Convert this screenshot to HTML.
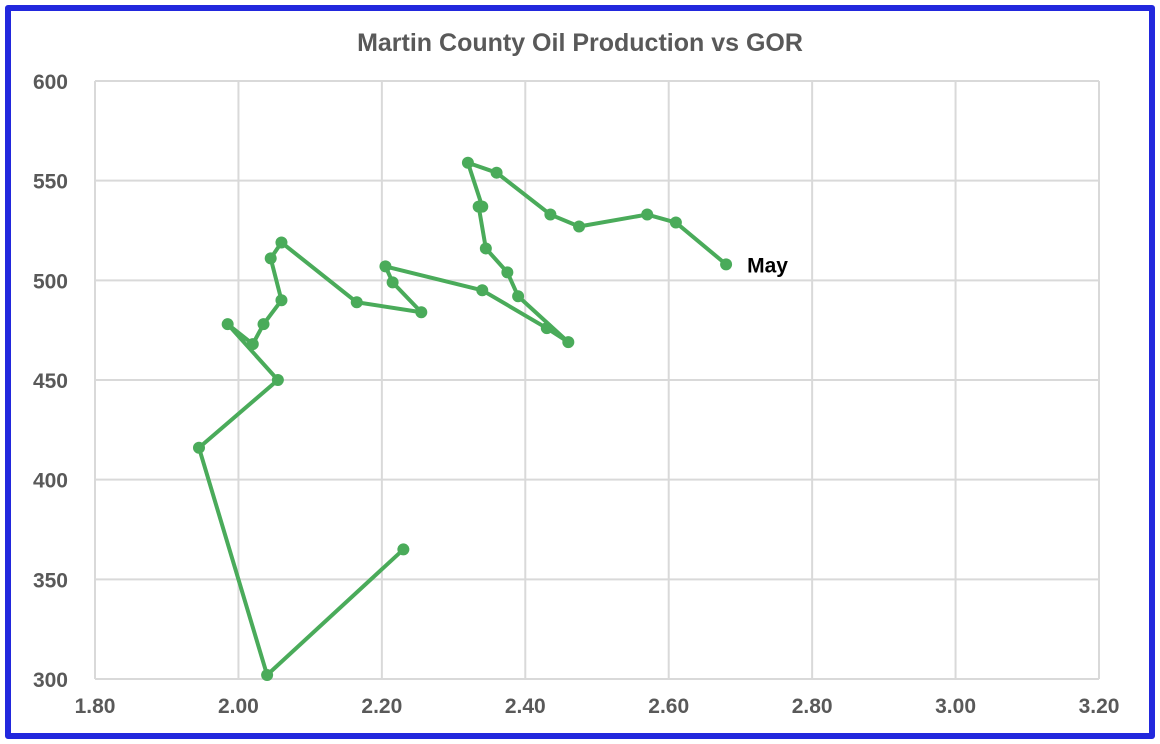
<!DOCTYPE html>
<html><head><meta charset="utf-8"><style>
html,body{margin:0;padding:0;background:#fff;}
#frame{position:absolute;left:5px;top:5px;width:1138px;height:722px;border:6px solid #2228dd;border-radius:3px;background:#fff;}
svg{position:absolute;left:0;top:0;}
text{font-family:"Liberation Sans",sans-serif;font-weight:bold;}
</style></head><body>
<div id="frame"></div>
<svg id="chart" width="1160" height="744"></svg>
<script>
const xVals=[2.23,2.04,1.945,2.055,1.985,2.02,2.035,2.06,2.045,2.06,2.165,2.255,2.215,2.205,2.34,2.43,2.46,2.39,2.375,2.345,2.335,2.34,2.32,2.36,2.435,2.475,2.57,2.61,2.68];
const yVals=[365,302,416,450,478,468,478,490,511,519,489,484,499,507,495,476,469,492,504,516,537,537,559,554,533,527,533,529,508];
const xTicks=[1.8,2.0,2.2,2.4,2.6,2.8,3.0,3.2];
const yTicks=[300,350,400,450,500,550,600];
const lastLabel="May";
const NS="http://www.w3.org/2000/svg";
const svg=document.getElementById('chart');
const L=95,R=1099,T=81,B=679;
const xs=v=>L+(v-1.8)/(3.2-1.8)*(R-L);
const ys=v=>B-(v-300)/(600-300)*(B-T);
function mk(t,a){const e=document.createElementNS(NS,t);for(const k in a)e.setAttribute(k,a[k]);svg.appendChild(e);return e;}
const title=mk('text',{x:580,y:51,'text-anchor':'middle','font-size':'25',fill:'#595959'});
title.textContent='Martin County Oil Production vs GOR';


xTicks.forEach((v,i)=>{
 const g=mk('line',{x1:xs(v),x2:xs(v),y1:T,y2:B,stroke:'#d9d9d9','stroke-width':2});
 
 
 const t=mk('text',{x:xs(v),y:713,'text-anchor':'middle','font-size':'21',fill:'#595959'});
 t.textContent=v.toFixed(2);
 
 
});
yTicks.forEach(v=>{
 const g=mk('line',{x1:L,x2:R,y1:ys(v),y2:ys(v),stroke:'#d9d9d9','stroke-width':2});
 
 
 const t=mk('text',{x:68,y:ys(v)+8,'text-anchor':'end','font-size':'21',fill:'#595959'});
 t.textContent=String(v);
 
 
});
const pts=xVals.map((x,i)=>xs(x)+','+ys(yVals[i])).join(' ');
const line=mk('polyline',{points:pts,fill:'none',stroke:'#4aab5a','stroke-width':4,'stroke-linejoin':'round'});


xVals.forEach((x,i)=>{
 const c=mk('circle',{cx:xs(x),cy:ys(yVals[i]),r:6,fill:'#4aab5a'});
 
 
});
const n=xVals.length-1;
const lab=mk('text',{x:xs(xVals[n])+21,y:ys(yVals[n])+8,'font-size':'21',fill:'#000'});
lab.textContent=lastLabel;


</script>
</body></html>
